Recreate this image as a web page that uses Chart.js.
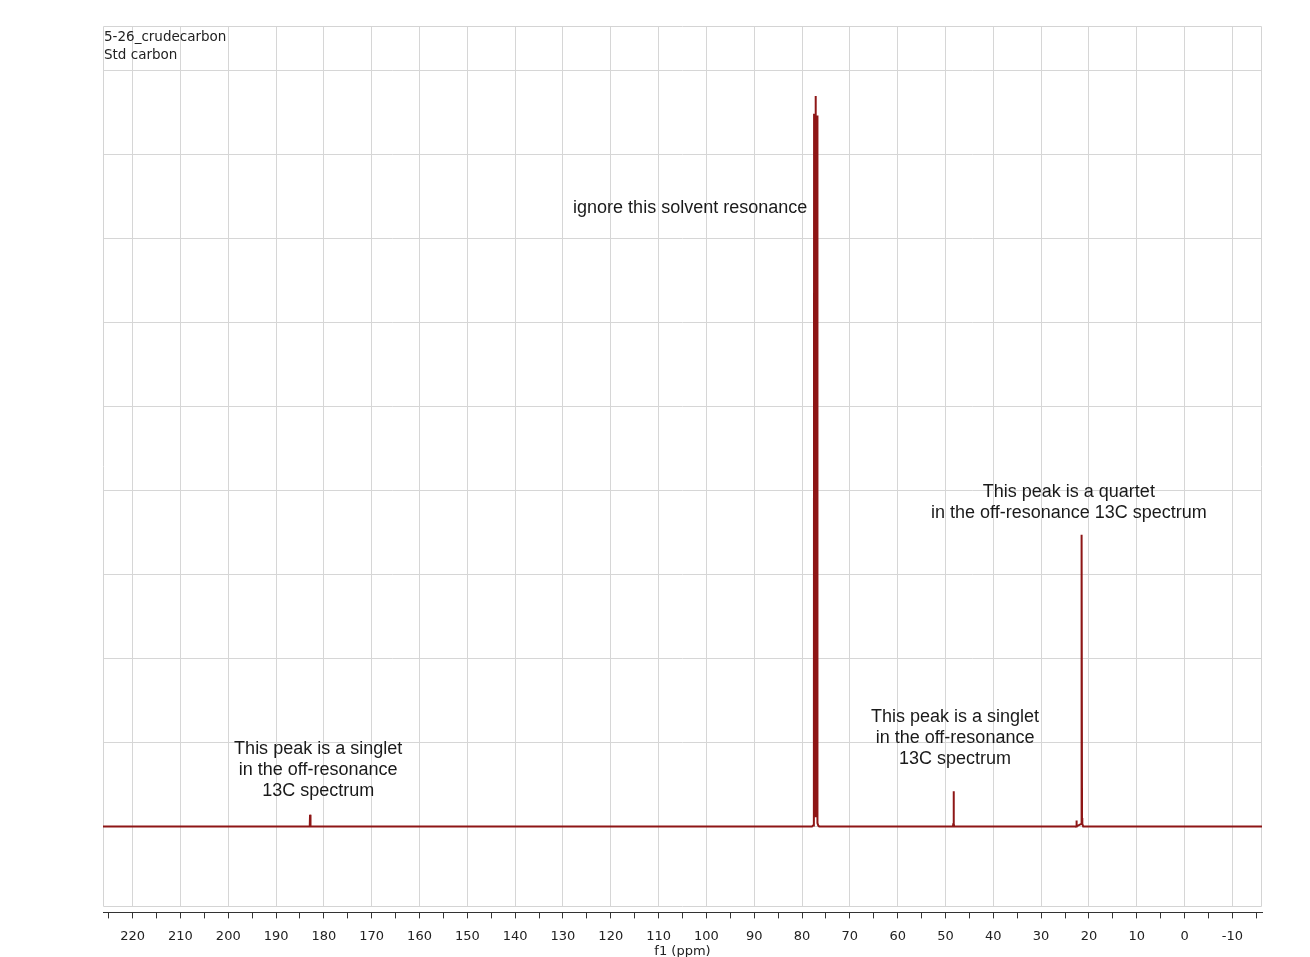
<!DOCTYPE html>
<html>
<head>
<meta charset="utf-8">
<script src="https://cdn.jsdelivr.net/npm/chart.js@4/dist/chart.umd.min.js"></script>
<style>
  html, body { margin: 0; padding: 0; background: #ffffff; }
  #wrap { width: 1310px; height: 957px; position: relative; }
</style>
</head>
<body>
<div id="wrap"><canvas id="c" width="1310" height="957"></canvas></div>
<script>
// ---- data (chemical shift in ppm, intensity in grid units) ----
const shiftPpm = [226.2, 183.05, 182.95, 182.9, 182.85, 182.75,
  77.9, 77.7, 77.55, 77.5, 77.48, 77.44, 77.2, 77.16, 77.12, 76.88, 76.84, 76.8, 76.75, 76.6, 76.4,
  48.45, 48.36, 48.3, 48.24, 48.15,
  22.65, 22.6, 22.55, 21.62, 21.56, 21.5, 21.44, 21.38, 21.2, -16.2];
const intensity = [0, 0, 0.02, 0.14, 0.02, 0,
  0, 0.01, 0.04, 0.1, 8.48, 0.12, 0.12, 8.69, 0.12, 0.12, 8.46, 0.1, 0.04, 0.01, 0,
  0, 0.03, 0.42, 0.03, 0,
  0, 0.07, 0, 0.03, 0.1, 3.47, 0.1, 0.03, 0, 0];
const xTickValues = [225, 220, 215, 210, 205, 200, 195, 190, 185, 180, 175, 170, 165, 160, 155, 150, 145, 140, 135, 130,
  125, 120, 115, 110, 105, 100, 95, 90, 85, 80, 75, 70, 65, 60, 55, 50, 45, 40, 35, 30, 25, 20, 15, 10, 5, 0, -5, -10, -15];
const yGridValues = [0, 1, 2, 3, 4, 5, 6, 7, 8, 9];
const headerLines = ['5-26_crudecarbon', 'Std carbon'];
const annotations = [
  { lines: ['ignore this solvent resonance'], ppm: 103.4, y: 7.36 },
  { lines: ['This peak is a quartet', 'in the off-resonance 13C spectrum'], ppm: 24.2, y: 3.98 },
  { lines: ['This peak is a singlet', 'in the off-resonance', '13C spectrum'], ppm: 48.0, y: 1.30 },
  { lines: ['This peak is a singlet', 'in the off-resonance', '13C spectrum'], ppm: 181.2, y: 0.92 }
];

const points = shiftPpm.map((x, i) => ({ x: x, y: intensity[i] }));

const boxPlugin = {
  id: 'boxPlugin',
  beforeDatasetsDraw(chart) {
    const { ctx, chartArea, scales } = chart;
    const yb = Math.round(scales.y.getPixelForValue(-0.95));
    ctx.save();
    ctx.fillStyle = '#ffffff';
    ctx.fillRect(chartArea.left, yb + 1, chartArea.right - chartArea.left, chartArea.bottom - yb - 1.5);
    ctx.strokeStyle = '#d4d4d4';
    ctx.lineWidth = 1;
    ctx.beginPath();
    ctx.moveTo(chartArea.left + 0.5, yb + 0.5);
    ctx.lineTo(chartArea.left + 0.5, chartArea.top + 0.5);
    ctx.lineTo(chartArea.right - 0.5, chartArea.top + 0.5);
    ctx.lineTo(chartArea.right - 0.5, yb + 0.5);
    ctx.lineTo(chartArea.left + 0.5, yb + 0.5);
    ctx.stroke();
    ctx.restore();
  },
  afterDraw(chart) {
    const { ctx, chartArea, scales } = chart;
    ctx.save();
    ctx.fillStyle = '#222';
    ctx.textBaseline = 'middle';
    ctx.textAlign = 'left';
    ctx.font = '13.5px "DejaVu Sans", sans-serif';
    headerLines.forEach((t, i) => ctx.fillText(t, chartArea.left + 1, 37 + i * 18));
    ctx.font = '18px "Liberation Sans", Arial, sans-serif';
    ctx.textAlign = 'center';
    ctx.fillStyle = '#1a1a1a';
    annotations.forEach(a => {
      const px = scales.x.getPixelForValue(a.ppm);
      const py = scales.y.getPixelForValue(a.y);
      a.lines.forEach((t, i) => ctx.fillText(t, px, py + i * 21));
    });
    ctx.restore();
  }
};

new Chart(document.getElementById('c'), {
  type: 'line',
  data: {
    datasets: [{
      data: points,
      borderColor: '#8e1616',
      borderWidth: 2,
      pointRadius: 0,
      tension: 0,
      fill: false
    }]
  },
  options: {
    responsive: false,
    animation: false,
    layout: { padding: { left: 103, right: 48, top: 26, bottom: -1 } },
    plugins: { legend: { display: false }, tooltip: { enabled: false } },
    scales: {
      x: {
        type: 'linear',
        reverse: true,
        min: -16.2,
        max: 226.2,
        afterBuildTicks: s => { s.ticks = xTickValues.map(v => ({ value: v })); },
        ticks: {
          autoSkip: false,
          maxRotation: 0,
          padding: 10,
          color: '#222',
          font: { family: '"DejaVu Sans", sans-serif', size: 13 },
          callback: v => (v % 10 === 0 ? String(v) : '')
        },
        grid: {
          color: c => (c.tick && c.tick.value % 10 === 0 ? '#d6d6d6' : 'rgba(0,0,0,0)'),
          tickColor: '#333',
          tickLength: 6,
          lineWidth: 1
        },
        border: { display: true, color: '#333', width: 1 },
        title: {
          display: true,
          text: 'f1 (ppm)',
          color: '#222',
          font: { family: '"DejaVu Sans", sans-serif', size: 13, lineHeight: 1.0 },
          padding: { top: -9, bottom: 0 }
        }
      },
      y: {
        min: -1.023,
        max: 9.524,
        afterBuildTicks: s => { s.ticks = yGridValues.map(v => ({ value: v })); },
        ticks: { display: false },
        grid: { color: '#d6d6d6', drawTicks: false, lineWidth: 1 },
        border: { display: false }
      }
    }
  },
  plugins: [boxPlugin]
});
</script>
</body>
</html>
